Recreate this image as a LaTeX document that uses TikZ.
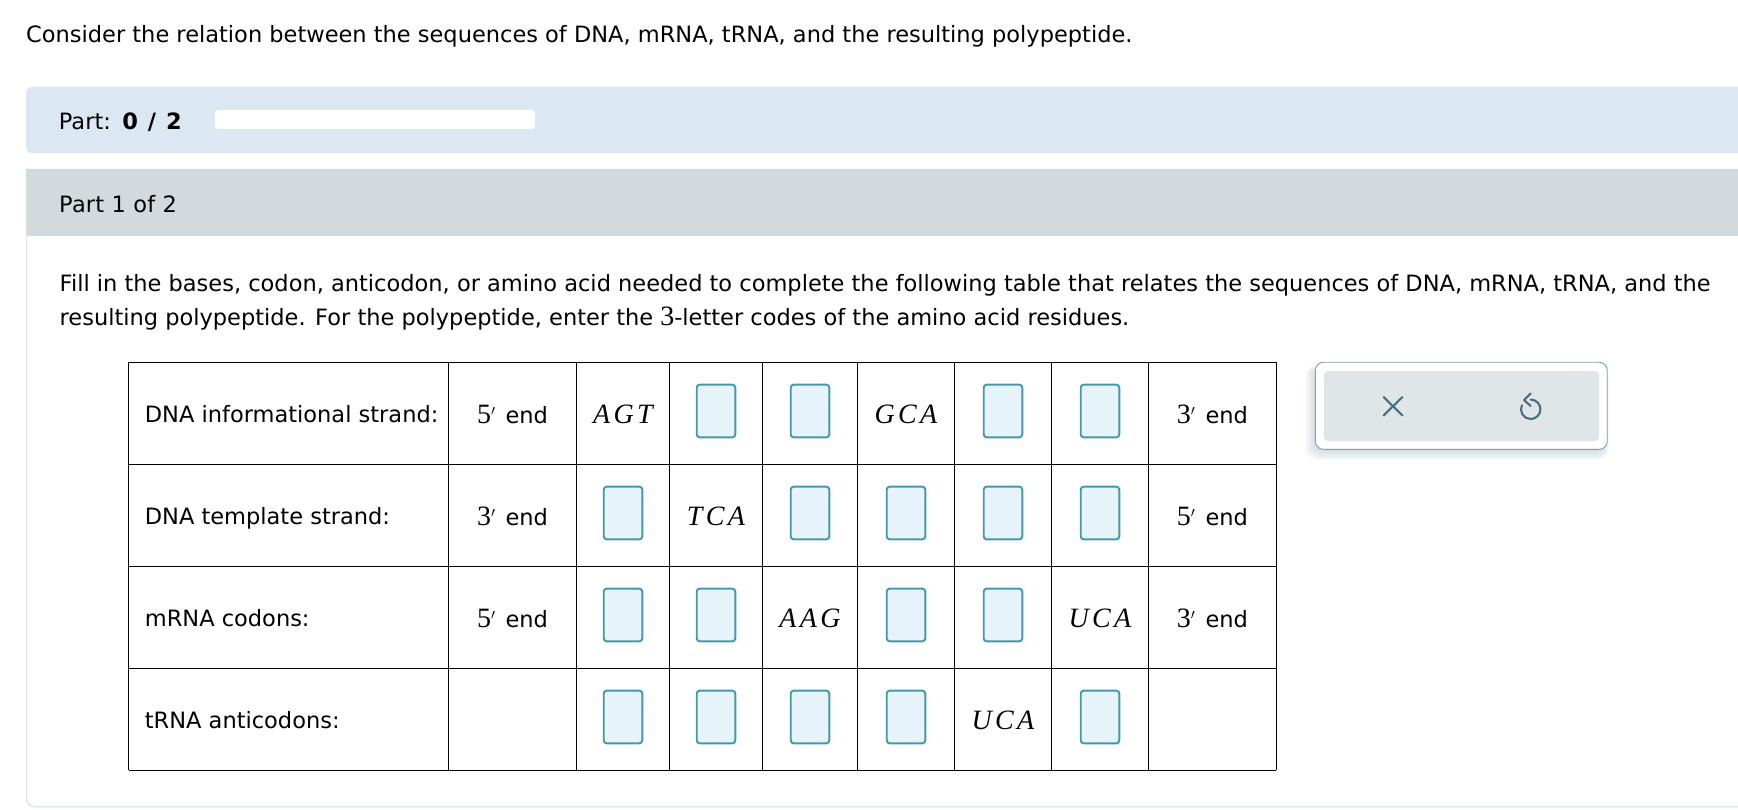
\documentclass[tikz,border=0pt]{standalone}
\usepackage{fontspec}
\setmainfont{DejaVu Sans}
\newfontfamily\serifnum{Liberation Serif}
\newfontfamily\serifseq[LetterSpace=12]{Liberation Serif Italic}
\definecolor{bannerblue}{HTML}{DCE8F1}
\definecolor{headgray}{HTML}{D3DADD}
\definecolor{panelline}{HTML}{D8E4E8}
\definecolor{boxfill}{HTML}{E6F3F8}
\definecolor{boxline}{HTML}{4398AB}
\definecolor{toolgray}{HTML}{E0E5E8}
\definecolor{toolline}{HTML}{7F9FA8}
\definecolor{iconline}{HTML}{47707D}
\tikzset{
  body/.style={anchor=base west,inner sep=0pt,font=\fontsize{22.5}{26}\selectfont},
  ends/.style={anchor=base,inner sep=0pt,font=\fontsize{22.5}{26}\selectfont},
  seq/.style={anchor=base,inner sep=0pt,font=\fontsize{28}{30}\selectfont\serifseq},
  inbox/.style={draw=boxline,fill=boxfill,line width=1.9pt,rounded corners=3pt,
    minimum width=38.6pt,minimum height=52.8pt,inner sep=0pt},
  icon/.style={draw=iconline,line width=2.1pt,line cap=round,line join=round}
}
\newcommand{\five}{{\fontsize{28}{30}\serifnum\selectfont 5}$'$\hspace{3pt}}
\newcommand{\three}{{\fontsize{28}{30}\serifnum\selectfont 3}$'$\hspace{3pt}}

\begin{document}
\begin{tikzpicture}[x=1pt,y=-1pt]
  \useasboundingbox (0,0) rectangle (1738,810);
  \clip (0,0) rectangle (1738,810);

  % page text and bands
  \node[body] (intro) at (26,42.5) {Consider the relation between the sequences of DNA, mRNA, tRNA, and the resulting polypeptide.};
  \fill[bannerblue,rounded corners=6pt] (26,87) rectangle (1760,153);
  \node[body] (part) at (58.7,129.5) {Part:\hspace{2pt} {\bfseries\addfontfeature{LetterSpace=9}0 / 2}};
  \fill[white,rounded corners=3pt] (215,110) rectangle (535,129);
  \draw[panelline,line width=1.2pt,rounded corners=8pt] (26.6,200) -- (26.6,806.7) -- (1760,806.7);
  \fill[headgray,rounded corners=3pt] (26,169) -- (1760,169) -- (1760,236) -- (26,236) [sharp corners] -- cycle;
  \node[body] (parttitle) at (59,213) {\addfontfeature{LetterSpace=1}Part 1 of 2};
  \node[body] (fillone) at (59.5,292) {Fill in the bases, codon, anticodon, or amino acid needed to complete the following table that relates the sequences of DNA, mRNA, tRNA, and the};
  \node[body] (filltwo) at (59.5,326) {resulting polypeptide. For the polypeptide, enter the {\fontsize{28}{30}\serifnum\selectfont 3}-letter codes of the amino acid residues.};

  % table
  \foreach \y in {362.3,464.3,566.3,668.3,770.3}
    \draw[line width=1.1pt] (128.6,\y) -- (1276.4,\y);
  \foreach \x in {128.6,448.4,576.5,669.6,762.7,857.5,954.4,1051.4,1148.4,1276.4}
    \draw[line width=1.1pt] (\x,362.3) -- (\x,770.3);

  % row titles
  \node[body] (dnainfo) at (144.7,422) {DNA informational strand:};
  \node[body] (dnatemp) at (144.7,524) {DNA template strand:};
  \node[body] (mrna) at (144.7,626) {mRNA codons:};
  \node[body] (trna) at (144.7,728) {tRNA anticodons:};

  % ends of the strands
  \node[ends] (endai) at (512.5,423) {\five\ end};
  \node[ends] (endbi) at (512.5,525) {\three\ end};
  \node[ends] (endci) at (512.5,627) {\five\ end};
  \node[ends] (endaj) at (1212.4,423) {\three\ end};
  \node[ends] (endbj) at (1212.4,525) {\five\ end};
  \node[ends] (endcj) at (1212.4,627) {\three\ end};

  % given sequences
  \node[seq] (agt) at (623,423) {AGT};
  \node[seq] (gca) at (906,423) {GCA};
  \node[seq] (tca) at (716,525) {TCA};
  \node[seq] (aag) at (810,627) {AAG};
  \node[seq] (ucam) at (1100,627) {UCA};
  \node[seq] (ucat) at (1003,729) {UCA};

  % answer boxes
  \foreach \y/\cols in {411/{716,810,1003,1100},513/{623,810,906,1003,1100},
                        615/{623,716,906,1003},717/{623,716,810,906,1100}}
    \foreach \x in \cols
      \node[inbox] (box-\x-\y) at (\x,\y) {};

  % tool box
  \foreach \g in {1,...,10}
    \fill[toolline,opacity=.04,rounded corners=10pt] ({1316-\g*1.1},{366}) rectangle ({1604+\g*.5},{450+\g});
  \draw[toolline,fill=white,line width=.9pt,rounded corners=8pt] (1315.4,362.3) rectangle (1607.2,449.3);
  \fill[toolgray,rounded corners=4pt] (1324,371) rectangle (1599,441);
  \draw[icon] (1383.5,397) -- (1402.5,415.5) (1402.5,397) -- (1383.5,415.5);
  \draw[icon] (1530.7,399.6) arc[start angle=-90,end angle=205,radius=9.7];
  \draw[icon] (1530.7,393.5) -- (1524,400) -- (1530.7,406);
\end{tikzpicture}
\end{document}
